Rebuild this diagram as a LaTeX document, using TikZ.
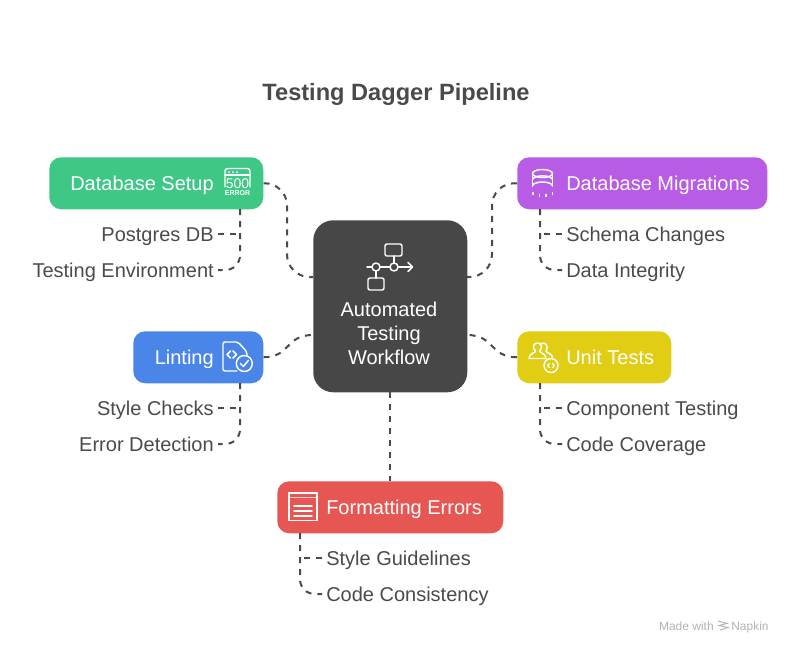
\documentclass[tikz,border=0pt]{standalone}
\usepackage{fontspec}
\setmainfont{Liberation Sans}
\usetikzlibrary{positioning,calc,arrows}
\definecolor{inkgrey}{RGB}{74,74,74}
\definecolor{hubgrey}{RGB}{71,71,71}
\definecolor{setupgreen}{RGB}{62,199,133}
\definecolor{migratepurple}{RGB}{184,92,229}
\definecolor{lintblue}{RGB}{74,134,232}
\definecolor{unityellow}{RGB}{224,205,20}
\definecolor{formatred}{RGB}{230,87,83}
\tikzset{
  topic/.style={rounded corners=9pt, inner sep=0pt, anchor=north west},
  topiclabel/.style={text=white, font=\fontsize{15}{18}\selectfont, inner sep=0pt, text height=10.5pt, text depth=0pt},
  leaf/.style={text=inkgrey, font=\fontsize{15}{18}\selectfont, inner xsep=3pt, inner ysep=0pt, text height=10.5pt, text depth=0pt},
  link/.style={draw=inkgrey, line width=1.5pt, dash pattern=on 4.5pt off 4.5pt},
  glyph/.style={draw=white, line width=1.1pt, line cap=round, line join=round}
}
\begin{document}
\begin{tikzpicture}[x=0.75pt, y=-0.75pt]
  \useasboundingbox (0,0) rectangle (792,654);

  % title
  \node[font=\fontsize{17.7}{22}\selectfont\bfseries, text=inkgrey] (title) at (396,94) {Testing Dagger Pipeline};

  % boxes
  \node[topic, fill=hubgrey, rounded corners=15pt, minimum width=115.5pt, minimum height=129pt] (hub) at (313,220) {};
  \node[topic, fill=setupgreen, minimum width=160.5pt, minimum height=39pt] (setup) at (49,157) {};
  \node[topic, fill=migratepurple, minimum width=187.5pt, minimum height=39pt] (migrate) at (517,157) {};
  \node[topic, fill=lintblue, minimum width=97.5pt, minimum height=39pt] (lint) at (133,331) {};
  \node[topic, fill=unityellow, minimum width=115.5pt, minimum height=39pt] (unit) at (517,331) {};
  \node[topic, fill=formatred, minimum width=169.5pt, minimum height=39pt] (format) at (277,481) {};

  % box labels
  \node[topiclabel, anchor=east] (setuplabel) at (214,183) {Database Setup};
  \node[topiclabel, anchor=west] (migratelabel) at (566,183) {Database Migrations};
  \node[topiclabel, anchor=east] (lintlabel) at (214,357) {Linting};
  \node[topiclabel, anchor=west] (unitlabel) at (566,357) {Unit Tests};
  \node[topiclabel, anchor=west] (formatlabel) at (326,507) {Formatting Errors};
  \node[text=white, align=center, inner sep=0pt, font=\fontsize{15}{18}\selectfont] (hublabel) at (389,333) {Automated\\Testing\\Workflow};

  % leaves
  \node[leaf, anchor=east] (postgres) at (218,234) {Postgres DB};
  \node[leaf, anchor=east] (testenv) at (218,270) {Testing Environment};
  \node[leaf, anchor=west] (schema) at (562,234) {Schema Changes};
  \node[leaf, anchor=west] (integrity) at (562,270) {Data Integrity};
  \node[leaf, anchor=east] (style) at (218,408) {Style Checks};
  \node[leaf, anchor=east] (detect) at (218,444) {Error Detection};
  \node[leaf, anchor=west] (component) at (562,408) {Component Testing};
  \node[leaf, anchor=west] (coverage) at (562,444) {Code Coverage};
  \node[leaf, anchor=west] (guide) at (322,558) {Style Guidelines};
  \node[leaf, anchor=west] (consist) at (322,594) {Code Consistency};

  % ports on the boxes
  \coordinate (hubw1) at (313,277);
  \coordinate (hube1) at (467,277);
  \coordinate (hubw2) at (313,335);
  \coordinate (hube2) at (467,335);
  \coordinate (hubs) at (390,392);
  \coordinate (setupfoot) at (240,209);
  \coordinate (migratefoot) at (540,209);
  \coordinate (lintfoot) at (240,383);
  \coordinate (unitfoot) at (540,383);
  \coordinate (formatfoot) at (300,533);
  \coordinate (formathead) at (390,481);

  % hub links
  \draw[link, rounded corners=17pt] (setup.east) -- (287,183) -- (287,277) -- (hubw1);
  \draw[link, rounded corners=17pt] (migrate.west) -- (492,183) -- (492,277) -- (hube1);
  \draw[link] (lint.east) .. controls (291,357) and (285,335) .. (hubw2);
  \draw[link] (unit.west) .. controls (489,357) and (495,335) .. (hube2);
  \draw[link] (hubs) -- (formathead);

  % leaf links
  \draw[link, rounded corners=11pt] (setupfoot) -- (240,270) -- (testenv.east);
  \draw[link] (postgres.east) -- (240,234);
  \draw[link, rounded corners=11pt] (migratefoot) -- (540,270) -- (integrity.west);
  \draw[link] (schema.west) -- (540,234);
  \draw[link, rounded corners=11pt] (lintfoot) -- (240,444) -- (detect.east);
  \draw[link] (style.east) -- (240,408);
  \draw[link, rounded corners=11pt] (unitfoot) -- (540,444) -- (coverage.west);
  \draw[link] (component.west) -- (540,408);
  \draw[link, rounded corners=11pt] (formatfoot) -- (300,594) -- (consist.west);
  \draw[link] (guide.west) -- (300,558);

  % hub icon
  \draw[glyph, rounded corners=1.5pt] (385,244) rectangle (402,256);
  \draw[glyph, rounded corners=1.5pt] (368,278) rectangle (384,290);
  \draw[glyph] (376,267) circle (4) (394,267) circle (4);
  \draw[glyph] (367,267) -- (372,267) (380,267) -- (390,267) (398,267) -- (412,267);
  \draw[glyph] (408,262.5) -- (412.5,267) -- (408,271.5);
  \draw[glyph] (394,256) -- (394,263) (376,271) -- (376,278);

  % setup icon
  \draw[glyph, rounded corners=2pt] (225,187) -- (225,168.5) -- (250,168.5) -- (250,187);
  \draw[glyph] (225,175) -- (250,175);
  \fill[white] (229,172) circle (1) (233,172) circle (1) (237,172) circle (1);
  \node[text=white, font=\fontsize{10.5}{11}\selectfont, inner sep=0pt] (code) at (237.5,184) {500};
  \node[text=white, font=\fontsize{5.25}{6}\selectfont\bfseries, inner sep=0pt] (err) at (237.5,193.5) {ERROR};

  % migrate icon
  \draw[glyph] (542.5,173.5) ellipse (10 and 4);
  \draw[glyph] (532.5,173.5) -- (532.5,186) (552.5,173.5) -- (552.5,186);
  \draw[glyph] (532.5,179.8) arc[start angle=180, end angle=360, x radius=10, y radius=4];
  \draw[glyph] (532.5,186) arc[start angle=180, end angle=360, x radius=10, y radius=4];
  \foreach \gx/\gy in {533/192.5,539.5/194.5,546/194.5,552.5/192.5} {
    \draw[glyph, line width=0.8pt] (\gx,\gy) -- (\gx,\gy+2);
  }

  % lint icon
  \draw[glyph, rounded corners=1.5pt] (237,371) -- (223,371) -- (223,342) -- (238,342) -- (247,352) -- (247,355);
  \draw[glyph] (230.5,351) -- (227,354.5) -- (230.5,358) (233,351) -- (236.5,354.5) -- (233,358);
  \draw[glyph] (244.3,363.5) circle (8);
  \draw[glyph] (240.3,363.5) -- (243.3,366.5) -- (248.3,360.5);

  % unit icon
  \draw[glyph] (529,358.5) -- (546,358.5) .. controls (546,354) and (541,353) .. (539.5,351.5) .. controls (543,347) and (541.5,343) .. (537.5,343) .. controls (533.5,343) and (532,347) .. (535.5,351.5) .. controls (534,353) and (529,354) .. (529,358.5);
  \draw[glyph] (541.5,343.5) .. controls (545,342) and (549,345) .. (546,351) .. controls (547,353) and (552,354) .. (552.5,357);
  \draw[glyph] (551,365.5) circle (7);
  \draw[glyph, line width=0.9pt] (549.5,363.5) -- (547.5,365.5) -- (549.5,367.5) (552.5,363.5) -- (554.5,365.5) -- (552.5,367.5);

  % format icon
  \draw[glyph, line cap=butt] (289,493) rectangle (317,520.5);
  \draw[glyph, line width=0.5pt, white!70!formatred] (289,497.5) -- (317,497.5);
  \draw[glyph] (294,506) -- (312,506) (294,511) -- (312,511) (294,516) -- (312,516);

  % watermark
  \node[text=black!30, font=\fontsize{9}{10}\selectfont, anchor=base east, inner sep=0pt] (made) at (714,630) {Made with};
  \node[text=black!30, font=\fontsize{9}{10}\selectfont, anchor=base west, inner sep=0pt] (napkin) at (731,630) {Napkin};
  \draw[black!30, line width=0.7pt] (718,621) -- (727,623.5) -- (719,625.5) -- (728,627.5) -- (720,630);
\end{tikzpicture}
\end{document}
